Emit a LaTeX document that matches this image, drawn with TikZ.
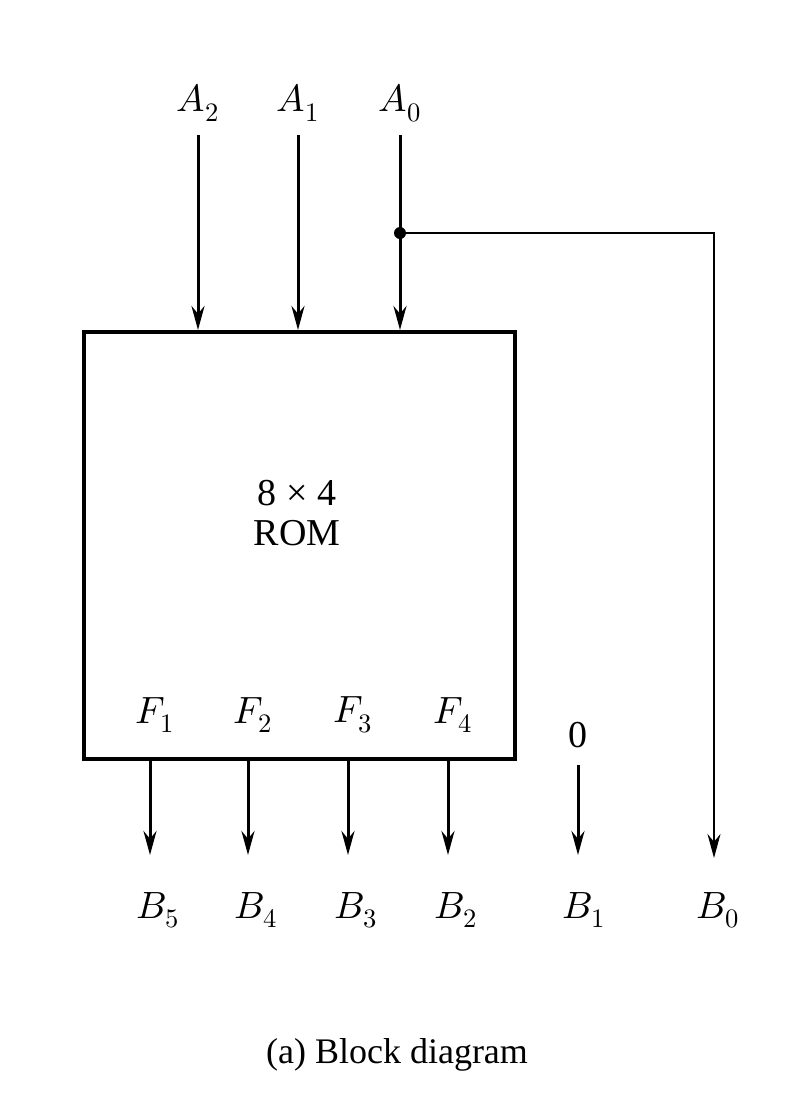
\documentclass[tikz,border=0pt]{standalone}
\usepackage{fontspec}
\setmainfont{Liberation Serif}
\usepackage{unicode-math}
\setmathfont{Latin Modern Math}
\usetikzlibrary{arrows.meta}
\begin{document}
\begin{tikzpicture}[x=1pt,y=-1pt,
  wire/.style={line width=3pt,-{Stealth[length=24pt,width=13pt]}},
  lbl/.style={font=\fontsize{38}{40}\selectfont,inner sep=0pt}]
\useasboundingbox (0,0) rectangle (786,1104);
\node[draw,line width=4pt,minimum width=431pt,minimum height=427pt,anchor=north west] (rom) at (82,330) {};
\node[lbl,align=center] (t) at (297,513) {8 × 4\\ROM};
\foreach \n/\x/\i in {a2/198/2,a1/298/1,a0/400/0}{
  \node[lbl] (\n) at (\x,103) {$A_{\i}$};
  \coordinate (\n s) at (\x,135);
  \coordinate (\n e) at (\x,330);
  \draw[wire] (\n s) -- (\n e);
}
\coordinate (dot) at (400,233);
\fill (dot) circle (6pt);
\coordinate (corner) at (714,233);
\coordinate (b0e) at (714,858);
\draw[line width=2.2pt,-{Stealth[length=24pt,width=13pt]}] (dot) -- (corner) -- (b0e);
\foreach \n/\x/\f/\b in {f1/150/1/5,f2/248/2/4,f3/348/3/3,f4/448/4/2}{
  \node[lbl] (\n) at (\x+5,715) {$F_{\f}$};
  \coordinate (\n s) at (\x,759);
  \coordinate (\n t) at (\x,855);
  \node[lbl] (b\b) at (\x+8,910) {$B_{\b}$};
  \draw[wire] (\n s) -- (\n t);
}
\node[lbl] (zero) at (578,735) {0};
\node[lbl] (b1) at (584,910) {$B_{1}$};
\coordinate (zs) at (578,765);
\coordinate (b1t) at (578,855);
\draw[wire] (zs) -- (b1t);
\node[lbl] (b0) at (718,910) {$B_{0}$};
\node[lbl,font=\fontsize{36}{40}\selectfont] (cap) at (397,1055) {(a) Block diagram};
\end{tikzpicture}
\end{document}
